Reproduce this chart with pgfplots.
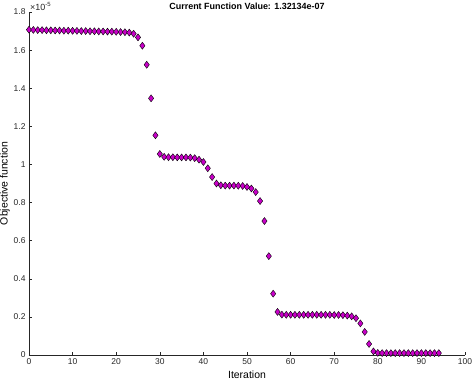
\documentclass[border=0pt]{standalone}
\usepackage{pgfplots}
\pgfplotsset{compat=1.18}
\usepackage{fontspec}
\setmainfont{Liberation Sans}
\definecolor{mk}{RGB}{200,0,200}
\definecolor{ax}{RGB}{38,38,38}
\begin{document}
\begin{tikzpicture}
\begin{axis}[
  name=ax,
  scale only axis,
  width=436bp, height=343bp,
  xmin=0, xmax=100, ymin=0, ymax=1.8,
  axis lines*=left,
  axis line style={ax, line width=0.5pt},
  tick style={ax, line width=0.5pt},
  tick align=inside,
  major tick length=3bp,
  xtick={0,10,...,100},
  ytick={0,0.2,0.4,0.6,0.8,1,1.2,1.4,1.6,1.8},
  yticklabels={0,0.2,0.4,0.6,0.8,1,1.2,1.4,1.6,1.8},
  ticklabel style={font=\fontsize{8.5}{10}\selectfont, text=ax},
  /pgf/number format/assume math mode=true,
  xlabel={Iteration},
  ylabel={Objective function},
  xlabel style={font=\fontsize{10.5}{12}\selectfont, yshift=0bp},
  ylabel style={font=\fontsize{10.5}{12}\selectfont, yshift=-3bp},
  title={\textbf{Current Function Value: 1.32134e-07}},
  title style={font=\fontsize{9}{10}\selectfont, yshift=-7bp},
  clip=false,
]
\addplot[only marks, mark=diamond*, mark size=3.5bp, mark options={fill=mk, draw=black, line width=0.4pt}] coordinates {
(0,1.707)(1,1.706)(2,1.705)(3,1.705)(4,1.704)(5,1.704)(6,1.703)(7,1.703)(8,1.702)(9,1.702)
(10,1.701)(11,1.701)(12,1.700)(13,1.700)(14,1.699)(15,1.699)(16,1.698)(17,1.698)(18,1.697)(19,1.697)
(20,1.696)(21,1.695)(22,1.694)(23,1.692)(24,1.686)(25,1.667)(26,1.623)(27,1.523)(28,1.347)(29,1.153)
(30,1.055)(31,1.040)(32,1.038)(33,1.038)(34,1.037)(35,1.037)(36,1.037)(37,1.036)(38,1.033)(39,1.025)
(40,1.013)(41,0.980)(42,0.934)(43,0.900)(44,0.891)(45,0.889)(46,0.889)(47,0.889)(48,0.888)(49,0.887)
(50,0.882)(51,0.874)(52,0.855)(53,0.808)(54,0.703)(55,0.519)(56,0.322)(57,0.226)(58,0.212)(59,0.211)
(60,0.211)(61,0.211)(62,0.211)(63,0.211)(64,0.211)(65,0.211)(66,0.211)(67,0.211)(68,0.211)(69,0.211)
(70,0.210)(71,0.210)(72,0.209)(73,0.207)(74,0.203)(75,0.193)(76,0.166)(77,0.121)(78,0.058)(79,0.019)
(80,0.011)(81,0.010)(82,0.010)(83,0.010)(84,0.010)(85,0.010)(86,0.010)(87,0.010)(88,0.010)(89,0.010)
(90,0.010)(91,0.010)(92,0.010)(93,0.010)(94,0.010)
};
\node[anchor=south west, inner sep=0pt, xshift=1bp, yshift=1.5bp, text=ax, font=\fontsize{9}{10}\selectfont] at (axis description cs:0,1) {×10\textsuperscript{-5}};
\end{axis}
\pgfresetboundingbox
\path[use as bounding box] (-29bp,-28bp) rectangle (445bp,355bp);
\end{tikzpicture}
\end{document}
